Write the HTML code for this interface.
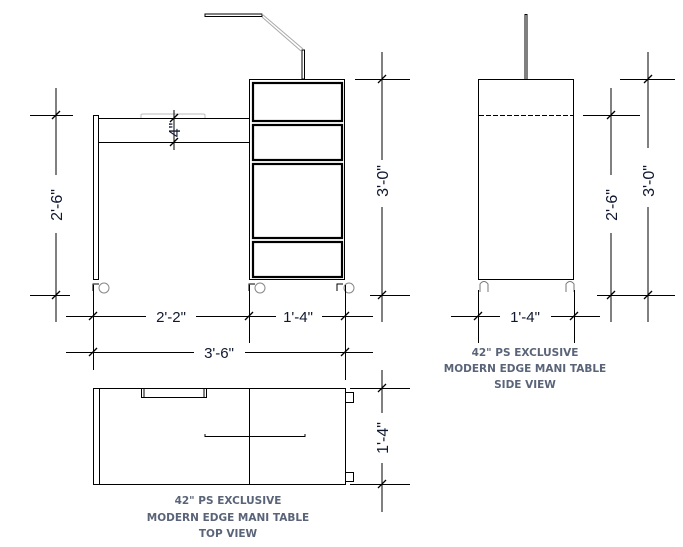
<!DOCTYPE html>
<html><head><meta charset="utf-8"><style>
html,body{margin:0;padding:0;background:#fff;}
svg{display:block;}
.d{font-family:"Liberation Sans",sans-serif;font-size:15px;fill:#101830;}
.v{font-size:16px;}
.t{font-family:"DejaVu Sans","Liberation Sans",sans-serif;font-weight:bold;font-size:10.5px;fill:#5a6478;text-anchor:middle;}
</style></head><body>
<svg width="683" height="547" viewBox="0 0 683 547" xmlns="http://www.w3.org/2000/svg">
<g stroke="#000" fill="none" stroke-width="1">
<!-- lamp -->
<rect x="205" y="14" width="57" height="2.5"/>
<line x1="262" y1="14" x2="303" y2="49" stroke="#aaa"/>
<line x1="262" y1="17" x2="301" y2="51" stroke="#aaa"/>
<rect x="302" y="50" width="2.5" height="29"/>
<!-- cabinet -->
<rect x="249.5" y="79.5" width="95" height="200"/>
<g stroke-width="2.2">
<rect x="253" y="83" width="89" height="38"/>
<rect x="253" y="125" width="89" height="35"/>
<rect x="253" y="164" width="89" height="74"/>
<rect x="253" y="242" width="89" height="35"/>
</g>
<!-- table -->
<line x1="99" y1="118.5" x2="249" y2="118.5"/>
<line x1="99" y1="142.5" x2="249" y2="142.5"/>
<rect x="93.5" y="115.5" width="5" height="164"/>
<path d="M141 118 v-3 q0 -1 2 -1 h60 q2 0 2 1 v3" stroke="#bbb"/>
<g stroke="#888">
<circle cx="104" cy="288" r="5"/><circle cx="260" cy="288" r="5"/><circle cx="349" cy="288" r="5"/>
</g>
<path d="M93 291 v-7 h6 M249 291 v-7 h6 M337 291 v-7 h6" />
<line x1="174" y1="110" x2="174" y2="150"/>
<line x1="56" y1="88" x2="56" y2="175"/><line x1="56" y1="233" x2="56" y2="322"/>
<line x1="30" y1="115.5" x2="73" y2="115.5"/><line x1="30" y1="295.5" x2="70" y2="295.5"/>
<line x1="382" y1="52" x2="382" y2="160"/><line x1="382" y1="207" x2="382" y2="322"/>
<line x1="355" y1="79.5" x2="410" y2="79.5"/><line x1="370" y1="295.5" x2="410" y2="295.5"/>
<line x1="93.5" y1="285" x2="93.5" y2="370"/>
<line x1="249.5" y1="285" x2="249.5" y2="343"/>
<line x1="345.5" y1="285" x2="345.5" y2="380"/>
<line x1="66" y1="316.5" x2="146" y2="316.5"/><line x1="196" y1="316.5" x2="276" y2="316.5"/><line x1="322" y1="316.5" x2="373" y2="316.5"/>
<line x1="66" y1="352.5" x2="194" y2="352.5"/><line x1="245" y1="352.5" x2="373" y2="352.5"/>
<g stroke-width="1.3">
<line x1="170" y1="122" x2="178" y2="114"/><line x1="170" y1="146" x2="178" y2="138"/>
<line x1="52" y1="119" x2="60" y2="111"/><line x1="52" y1="299" x2="60" y2="291"/>
<line x1="378" y1="83" x2="386" y2="75"/><line x1="378" y1="299" x2="386" y2="291"/>
<line x1="89" y1="320" x2="97" y2="312"/><line x1="245" y1="320" x2="253" y2="312"/><line x1="341" y1="320" x2="349" y2="312"/>
<line x1="89" y1="356" x2="97" y2="348"/><line x1="341" y1="356" x2="349" y2="348"/>
</g>

<!-- SIDE VIEW -->
<rect x="525" y="14.5" width="2" height="65"/>
<rect x="478.5" y="79.5" width="95" height="200"/>
<line x1="479" y1="115.5" x2="573" y2="115.5" stroke-dasharray="5,2"/>
<g stroke="#777"><path d="M480 292 v-8 q4 -5 8 0 v8"/><path d="M566 292 v-8 q4 -5 8 0 v8"/></g>
<line x1="611" y1="88" x2="611" y2="175"/><line x1="611" y1="233" x2="611" y2="322"/>
<line x1="583" y1="115.5" x2="640" y2="115.5"/><line x1="597" y1="295.5" x2="675" y2="295.5"/>
<line x1="648" y1="52" x2="648" y2="148"/><line x1="648" y1="207" x2="648" y2="322"/>
<line x1="620" y1="79.5" x2="675" y2="79.5"/>
<line x1="478.5" y1="290" x2="478.5" y2="343"/><line x1="574.5" y1="290" x2="574.5" y2="343"/>
<line x1="451" y1="316.5" x2="500" y2="316.5"/><line x1="551" y1="316.5" x2="600" y2="316.5"/>
<g stroke-width="1.3">
<line x1="607" y1="119" x2="615" y2="111"/><line x1="607" y1="299" x2="615" y2="291"/>
<line x1="644" y1="83" x2="652" y2="75"/><line x1="644" y1="299" x2="652" y2="291"/>
<line x1="474" y1="320" x2="482" y2="312"/><line x1="570" y1="320" x2="578" y2="312"/>
</g>

<!-- TOP VIEW -->
<rect x="93.5" y="388.5" width="252" height="96"/>
<line x1="99.5" y1="388" x2="99.5" y2="484"/>
<rect x="141.5" y="388.5" width="65" height="9"/>
<line x1="144" y1="389" x2="144" y2="397"/><line x1="204" y1="389" x2="204" y2="397"/>
<line x1="249.5" y1="388" x2="249.5" y2="484"/>
<path d="M205 434 v2.5 h100 v-2.5"/>
<rect x="345.5" y="392.5" width="8" height="10"/>
<rect x="345.5" y="472.5" width="8" height="9"/>
<line x1="350" y1="388.5" x2="410" y2="388.5"/><line x1="350" y1="484.5" x2="410" y2="484.5"/>
<line x1="382" y1="370" x2="382" y2="413"/><line x1="382" y1="463" x2="382" y2="512"/>
<g stroke-width="1.3">
<line x1="378" y1="392" x2="386" y2="384"/><line x1="378" y1="488" x2="386" y2="480"/>
</g>
</g>

<text class="d" x="171" y="322" text-anchor="middle">2'-2"</text>
<text class="d" x="298" y="322" text-anchor="middle">1'-4"</text>
<text class="d" x="219" y="358" text-anchor="middle">3'-6"</text>
<text class="d" x="525" y="322" text-anchor="middle">1'-4"</text>
<text class="d v" transform="translate(62,205) rotate(-90)" text-anchor="middle">2'-6"</text>
<text class="d v" transform="translate(180,130) rotate(-90)" text-anchor="middle">4"</text>
<text class="d v" transform="translate(388,181) rotate(-90)" text-anchor="middle">3'-0"</text>
<text class="d v" transform="translate(617,205) rotate(-90)" text-anchor="middle">2'-6"</text>
<text class="d v" transform="translate(654,181) rotate(-90)" text-anchor="middle">3'-0"</text>
<text class="d v" transform="translate(388,438) rotate(-90)" text-anchor="middle">1'-4"</text>

<text class="t" x="525" y="356">42" PS EXCLUSIVE</text>
<text class="t" x="525" y="372">MODERN EDGE MANI TABLE</text>
<text class="t" x="525" y="388">SIDE VIEW</text>
<text class="t" x="228" y="504">42" PS EXCLUSIVE</text>
<text class="t" x="228" y="521">MODERN EDGE MANI TABLE</text>
<text class="t" x="228" y="537">TOP VIEW</text>
</svg>
</body></html>
